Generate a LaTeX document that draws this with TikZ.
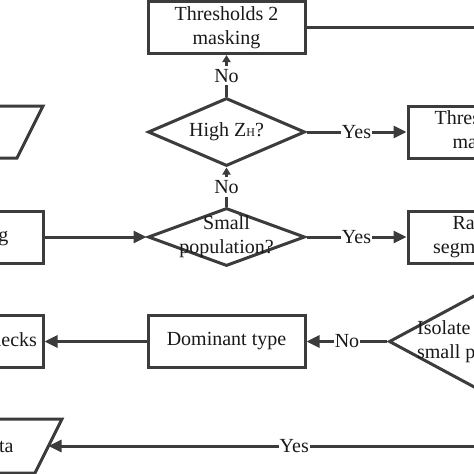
\documentclass[tikz,border=0pt]{standalone}
\usepackage{fontspec}
\setmainfont{Liberation Serif}
\usepackage{xcolor}
\usepackage{tikz}
\usetikzlibrary{shapes.geometric,arrows.meta,positioning}
\definecolor{lineg}{RGB}{60,60,60}
\definecolor{textg}{RGB}{25,25,25}

\begin{document}
\begin{tikzpicture}[x=1pt, y=-1pt, font=\fontsize{20}{24}\selectfont, text=textg,
  box/.style={rectangle, draw=lineg, line width=3pt, fill=white, minimum width=157pt, minimum height=52pt, align=center, inner sep=0pt},
  dec/.style={diamond, draw=lineg, line width=3pt, minimum width=157pt, minimum height=#1, inner sep=0pt},
  dec/.default=68pt,
  edge/.style={draw=lineg, line width=3pt},
  arr/.style={-{Triangle[length=13pt,width=12pt]}, edge},
  arrup/.style={-{Triangle[length=7pt,width=8pt]}, edge},
  lab/.style={fill=white, inner xsep=1pt, inner ysep=3pt}]
  % Frame
  \useasboundingbox (0,0) rectangle (474,474);
  \clip (0,0) rectangle (474,474);
  % Middle column
  \node[box] (thtwo) at (226.5,27.5) {Thresholds 2\\masking};
  \node[dec, label={center:{High Z{\fontsize{12}{12}\selectfont H}?}}] (highz) at (226.5,132) {};
  \node[dec=58pt, label={[align=center]center:{Small\\population?}}] (smallpop) at (226.5,237) {};
  \node[box] (dom) at (226.5,341.5) {Dominant type};
  % Right column
  \node[box] (thone) at (486.5,132) {Thresholds 1\\masking};
  \node[box] (rand) at (486.5,237) {Random\\segmentation};
  \node[dec=107.6pt, minimum width=199pt, label={[align=left]center:{Isolate or\\small population?}}] (isol) at (488.5,341.5) {};
  % Left column
  \draw[edge] (-150,106) -- (43,106) -- (17,158) -- (-176,158) -- cycle;
  \node[box] (smooth) at (-35.5,237) {Smoothing};
  \node[box, text width=145pt, align=right] (checks) at (-35.5,341.5) {Quality checks};
  \draw[edge] (-150,419) -- (62,419) -- (35,473) -- (-177,473) -- cycle;
  \coordinate (outpar) at (48.5,446);
  \node[anchor=base east] (outtxt) at (17,452) {Output data};
  % Ends off the page
  \coordinate (toright) at (480,27.5);
  \coordinate (fromright) at (540,446);
  % Arrows
  \draw[edge] (thtwo) -- (toright);
  \draw[arrup] (highz) -- node[lab]{No} (thtwo);
  \draw[arrup] (smallpop) -- node[lab]{No} (highz);
  \draw[arr] (highz) -- node[lab]{Yes} (thone);
  \draw[arr] (smallpop) -- node[lab]{Yes} (rand);
  \draw[arr] (smooth) -- (smallpop);
  \draw[arr] (isol) -- node[lab]{No} (dom);
  \draw[arr] (dom) -- (checks);
  \draw[arr] (fromright) -- node[lab]{Yes} (outpar);
\end{tikzpicture}
\end{document}
